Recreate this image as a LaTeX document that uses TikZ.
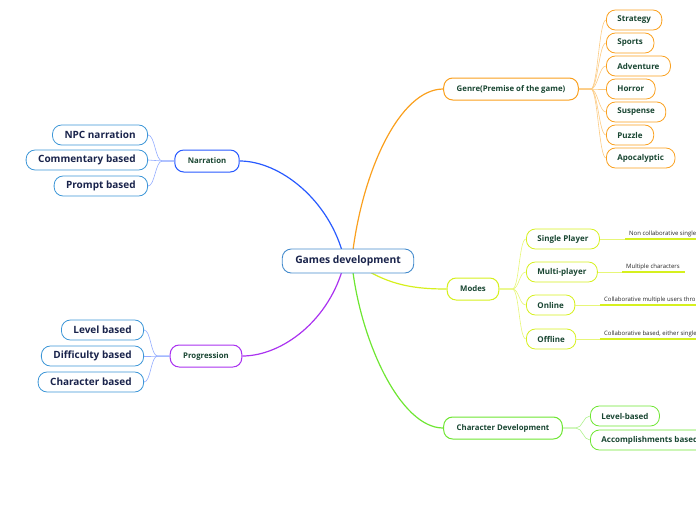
\documentclass[tikz,border=0pt]{standalone}
\usepackage{fontspec}
\setmainfont{Open Sans}
\usepackage{xcolor}
\definecolor{hubblue}{RGB}{70,140,205}
\definecolor{leafblue}{RGB}{60,150,215}
\definecolor{genreorange}{RGB}{250,160,30}
\definecolor{modelime}{RGB}{214,240,30}
\definecolor{devgreen}{RGB}{110,230,50}
\definecolor{narrblue}{RGB}{40,90,255}
\definecolor{progpurple}{RGB}{170,50,240}
\definecolor{labelgreen}{RGB}{25,70,50}
\definecolor{labelnavy}{RGB}{25,35,75}
\usepackage{tikz}
\usetikzlibrary{backgrounds}
\tikzset{
  box/.style={draw, rounded corners=9pt, fill=white, text=labelgreen, inner ysep=0pt},
  hub/.style={box, draw=hubblue, line width=0.9pt, minimum height=24pt, inner xsep=13pt, text=labelnavy, font=\fontsize{10.3}{12}\selectfont\bfseries},
  branch/.style={box, line width=1pt, minimum height=22pt, inner xsep=13pt, font=\fontsize{7.8}{9}\selectfont\bfseries},
  leaf/.style={box, line width=0.8pt, minimum height=20pt, inner xsep=11pt, font=\fontsize{8}{9}\selectfont\bfseries},
  bigleaf/.style={box, draw=leafblue, line width=0.8pt, minimum height=20pt, inner xsep=12pt, text=labelnavy, font=\fontsize{10}{12}\selectfont\bfseries},
  link/.style={line width=1.2pt},
  twig/.style={line width=0.6pt},
  note/.style={font=\fontsize{6}{7}\selectfont, inner sep=0pt, anchor=base west, text=black!85},
  noteline/.style={modelime, line width=1.8pt}
}

\begin{document}
\begin{tikzpicture}[x=1pt, y=-1pt]
    \useasboundingbox (0,0) rectangle (696,520);
    \node[hub] (games) at (348,261) {Games development};
    \node[branch, draw=genreorange] (genre) at (511,89) {Genre(Premise of the game)};
    \node[branch, draw=modelime] (modes) at (473,289) {Modes};
    \node[branch, draw=devgreen] (chardev) at (503,428) {Character Development};
    \node[branch, draw=narrblue] (narration) at (207,161) {Narration};
    \node[branch, draw=progpurple] (progression) at (206,356) {Progression};
    \begin{scope}[on background layer]
        \draw[link, genreorange] ([shift={(4,-3)}]games.center) .. controls +(10,-88) and +(-43,0) .. (genre.west);
        \draw[link, devgreen] ([shift={(4,3)}]games.center) .. controls +(8,76) and +(-43,0) .. (chardev.west);
        \draw[link, modelime] ([shift={(12,5)}]games.center) .. controls +(30,20) and +(-30,0) .. (modes.west);
        \draw[link, narrblue] ([shift={(-4,-3)}]games.center) .. controls +(-14,-58) and +(40,0) .. (narration.east);
        \draw[link, progpurple] ([shift={(-4,3)}]games.center) .. controls +(-14,56) and +(40,0) .. (progression.east);
    \end{scope}
    % genre
    \foreach \n/\y/\txt in {strategy/20/Strategy, sports/43/Sports, adventure/66/Adventure, horror/89/Horror, suspense/112/Suspense, puzzle/135/Puzzle, apocalyptic/158/Apocalyptic} {
        \node[leaf, draw=genreorange, anchor=west] (\n) at (606,\y) {\txt};
        \draw[twig, genreorange!55] (genre.east) -- ++(12,0) .. controls +(7,0) and +(-7,0) .. (\n.west);
    }
    % modes
    \foreach \n/\y/\xa/\xb/\txt/\remark in {single/239/625/696/Single Player/Non collaborative single, multi/272/622/685/Multi-player/Multiple characters, online/305/600/696/Online/Collaborative multiple users thro, offline/339/600/696/Offline/{Collaborative based, either single}} {
        \node[leaf, draw=modelime, anchor=west] (\n) at (526,\y) {\txt};
        \draw[twig, modelime!60] (modes.east) -- ++(13,0) .. controls +(7,0) and +(-7,0) .. (\n.west);
        \coordinate (\n-a) at (\xa,\y);
        \coordinate (\n-b) at (\xb,\y);
        \draw[twig, modelime!60] (\n.east) -- (\n-a);
        \draw[noteline] (\n-a) -- (\n-b);
        \node[note] (\n-note) at ([shift={(4,-4)}]\n-a) {\remark};
    }
    % character development
    \foreach \n/\y/\txt in {levelb/416/Level-based, accomp/440/Accomplishments based} {
        \node[leaf, draw=devgreen, anchor=west] (\n) at (590,\y) {\txt};
        \draw[twig, devgreen!55] (chardev.east) -- ++(13,0) .. controls +(7,0) and +(-7,0) .. (\n.west);
    }
    % narration
    \foreach \n/\y/\txt in {npc/135/NPC narration, comment/160/Commentary based, prompt/186/Prompt based} {
        \node[bigleaf, anchor=east] (\n) at (148,\y) {\txt};
        \draw[twig, narrblue!50] (narration.west) -- ++(-12,0) .. controls +(-7,0) and +(7,0) .. (\n.east);
    }
    % progression
    \foreach \n/\y/\txt in {level/330/Level based, difficulty/356/Difficulty based, character/382/Character based} {
        \node[bigleaf, anchor=east] (\n) at (144,\y) {\txt};
        \draw[twig, narrblue!50] (progression.west) -- ++(-12,0) .. controls +(-7,0) and +(7,0) .. (\n.east);
    }
\end{tikzpicture}
\end{document}
